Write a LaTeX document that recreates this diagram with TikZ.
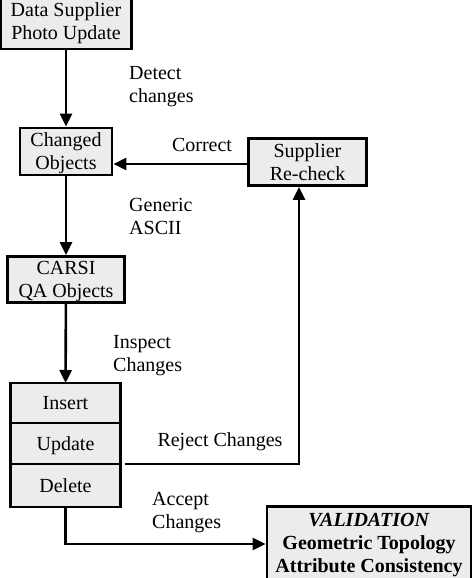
\documentclass[tikz,border=0pt]{standalone}
\usepackage{fontspec}
\setmainfont{Liberation Serif}
\usetikzlibrary{arrows.meta}

\newcommand{\diagfont}{\fontsize{20}{23}\selectfont}

\begin{document}
\begin{tikzpicture}[x=1pt,y=-1pt,
    every node/.style={font=\diagfont},
    box/.style={draw,line width=2.8pt,fill=gray!15,align=center,inner sep=0pt,text depth=0pt},
    cell/.style={box,minimum width=110pt,outer sep=0pt},
    flow/.style={line width=2.6pt,-{Triangle[length=13pt,width=12pt]}},
    lbl/.style={align=left,anchor=west,inner sep=0pt}]
    \useasboundingbox (0,0) rectangle (474,578);

    % boxes
    \node[box,minimum width=131pt,minimum height=56pt] (supplier) at (66,21) {Data Supplier\\Photo Update};
    \node[box,minimum width=92pt,minimum height=47pt] (changed) at (66,151.5) {Changed\\Objects};
    \node[box,minimum width=118pt,minimum height=47pt] (recheck) at (307.5,162) {Supplier\\Re-check};
    \node[box,minimum width=117pt,minimum height=46pt] (carsi) at (66,279.5) {CARSI\\QA Objects};
    \node[cell,minimum height=40pt] (insert) at (65.5,403) {Insert};
    \node[cell,minimum height=41pt,anchor=north] (update) at (insert.south) {Update};
    \node[cell,minimum height=43pt,anchor=north] (delete) at (update.south) {Delete};
    \node[box,text depth=20pt,minimum width=204pt,minimum height=92pt,anchor=north,font=\diagfont\bfseries]
        (validation) at (369,505) {\textit{VALIDATION}\\Geometric Topology\\Attribute Consistency};

    % connectors
    \draw[flow] (supplier) -- (changed);
    \draw[flow] (changed) -- (carsi);
    \draw[flow] (carsi) -- (insert);
    \draw[flow] (recheck.west |- 0,164) -- (changed.east |- 0,164);
    \draw[flow] ([xshift=4pt]update.south east) -| ([xshift=-8.5pt]recheck.south);
    \draw[flow] (delete.south) |- (validation.west |- 0,544);

    % labels
    \node[lbl] (detect) at (129,87) {Detect\\changes};
    \node[inner sep=0pt] (correct) at (202,145) {Correct};
    \node[lbl] (generic) at (129,216) {Generic\\ASCII};
    \node[lbl] (inspect) at (113,356) {Inspect\\Changes};
    \node[inner sep=0pt] (reject) at (220,442) {Reject Changes};
    \node[lbl] (accept) at (152,513) {Accept\\Changes};
\end{tikzpicture}
\end{document}
